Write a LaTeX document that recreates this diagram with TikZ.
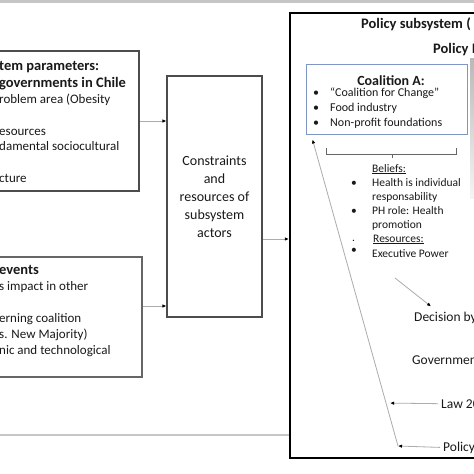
\documentclass[tikz,border=0pt]{standalone}
\usepackage{fontspec}
\setmainfont{Carlito}
\usepackage{tikz}
\usetikzlibrary{arrows.meta,positioning,calc}
\definecolor{coalblue}{RGB}{125,150,195}

\begin{document}
\begin{tikzpicture}[
  x=1pt, y=-1pt,
  font=\fontsize{13}{16}\selectfont,
  lbl/.style = {anchor=base west, inner sep=0pt, text=black!90},
  hd/.style  = {lbl, font=\fontsize{14.5}{17}\selectfont\bfseries},
  sml/.style = {lbl, font=\fontsize{11.5}{14}\selectfont},
  bx/.style  = {draw=black!70, line width=1.1pt, inner sep=0pt},
  arr/.style = {-{Latex[length=4pt,width=3.5pt,color=black]},
                draw=gray!65, line width=0.8pt},
  frm/.style = {gray!45, line width=2pt}
]
\useasboundingbox (0,0) rectangle (474,474);
\clip (0,0) rectangle (474,474);
\fill[white] (0,0) rectangle (474,474);
\fill[gray!45] (-5,-5) rectangle (480,2.5);
%% -- Boxes --
\node[bx, minimum width=151pt, minimum height=140pt] (prm) at (63.5,121) {};
\node[bx, draw=black!60, minimum width=154pt, minimum height=120pt] (evt) at (65,317) {};
\node[bx, minimum width=95pt, minimum height=241pt, align=center,
      font=\fontsize{14}{18}\selectfont, text=black!90]
      (cns) at (214.5,196.5) {Constraints\\and\\resources of\\subsystem\\actors};
\node[draw=black, line width=2.2pt, minimum width=205pt, minimum height=445pt,
      inner sep=0pt] (sub) at (392.5,235.5) {};
\node[draw=coalblue, line width=1pt, minimum width=161pt, minimum height=70pt,
      inner sep=0pt] (coa) at (386.5,99) {};
\shade[top color=gray!55, bottom color=gray!8] (470,58) rectangle (480,198);
%% -- Left box texts --
\node[hd] (p1) at (-1,70) {tem parameters:};
\node[hd] (p2) at (-1,87) {governments in Chile};
\foreach \yy/\tx in {103/roblem area (Obesity,135/esources,
                     150/damental sociocultural,182/cture}{
  \node[lbl] (p\yy) at (-1,\yy) {\tx};}
\node[hd] (e1) at (-1,274) {events};
\foreach \yy/\tx in {290/s impact in other,322/erning coalition,
                     338/s. New Majority),354/nic and technological}{
  \node[lbl] (e\yy) at (-1,\yy) {\tx};}
%% -- Subsystem texts --
\node[hd] (ttl) at (361,28) {Policy subsystem (};
\node[hd] (brk) at (433,53) {Policy I};
\node[hd, font=\fontsize{14}{17}\selectfont\bfseries, anchor=base]
      (ca) at (391,85) {Coalition A:};
\foreach \yy/\tx in {96/“Coalition for Change”,111/Food industry,
                     126/Non-profit foundations}{
  \node[lbl, font=\fontsize{12}{15}\selectfont] (cb\yy) at (313,\yy) {•};
  \node[lbl, font=\fontsize{12}{15}\selectfont] (ct\yy) at (330,\yy) {\tx};}
\draw[black!60, line width=0.8pt] (326,148) -- (326,154) -- (456,154) -- (456,148)
      (392,154) -- (392,158);
\node[sml] (bel) at (372,172) {\underline{Beliefs:}};
\node[sml] (b1) at (351,186) {•};
\node[sml] (b2) at (372,186) {Health is individual};
\node[sml] (b3) at (372,200) {responsability};
\node[sml] (b4) at (351,214) {•};
\node[sml] (b5) at (372,214) {PH role: Health};
\node[sml] (b6) at (372,228) {promotion};
\node[sml] (res) at (373,242) {\underline{Resources:}};
\node[sml] (b7) at (352,241) {.};
\node[sml] (b8) at (351,253) {•};
\node[sml] (exe) at (372,257) {Executive Power};
\node[lbl, font=\fontsize{13.5}{16}\selectfont] (dec) at (414,321) {Decision by};
\node[lbl, font=\fontsize{13.5}{16}\selectfont] (gov) at (412,364) {Governmen};
\node[lbl, font=\fontsize{13.5}{16}\selectfont, inner xsep=3pt] (law) at (438,408) {Law 20};
\node[lbl, font=\fontsize{13.5}{16}\selectfont, inner xsep=3pt] (pol) at (440,451) {Policy};
%% -- Flow --
\draw[arr] (prm.east) -- (prm.east -| cns.west);
\draw[arr] ([yshift=11pt]evt.east) -- ([yshift=11pt]evt.east -| cns.west);
\draw[arr] ([yshift=-42.5pt]cns.east) -- ([yshift=-42.5pt]cns.east -| sub.west);
\coordinate (fl) at (-5,435);
\draw[frm] (fl) -- (fl -| sub.west);
%% -- Feedback to coalition --
\coordinate (pe) at (398,446);
\coordinate (tip) at ([shift={(7pt,-5pt)}]coa.south west);
\draw[arr] (pe) -- (tip);
\draw[arr] (law.west) -- ([xshift=4pt]$(pe)!0.14!(tip)$);
\draw[arr] (pol.west) -- (pe);
\coordinate (ds) at (395,278);
\draw[arr] (ds) -- ([shift={(17pt,5pt)}]dec.north west);
\end{tikzpicture}
\end{document}
